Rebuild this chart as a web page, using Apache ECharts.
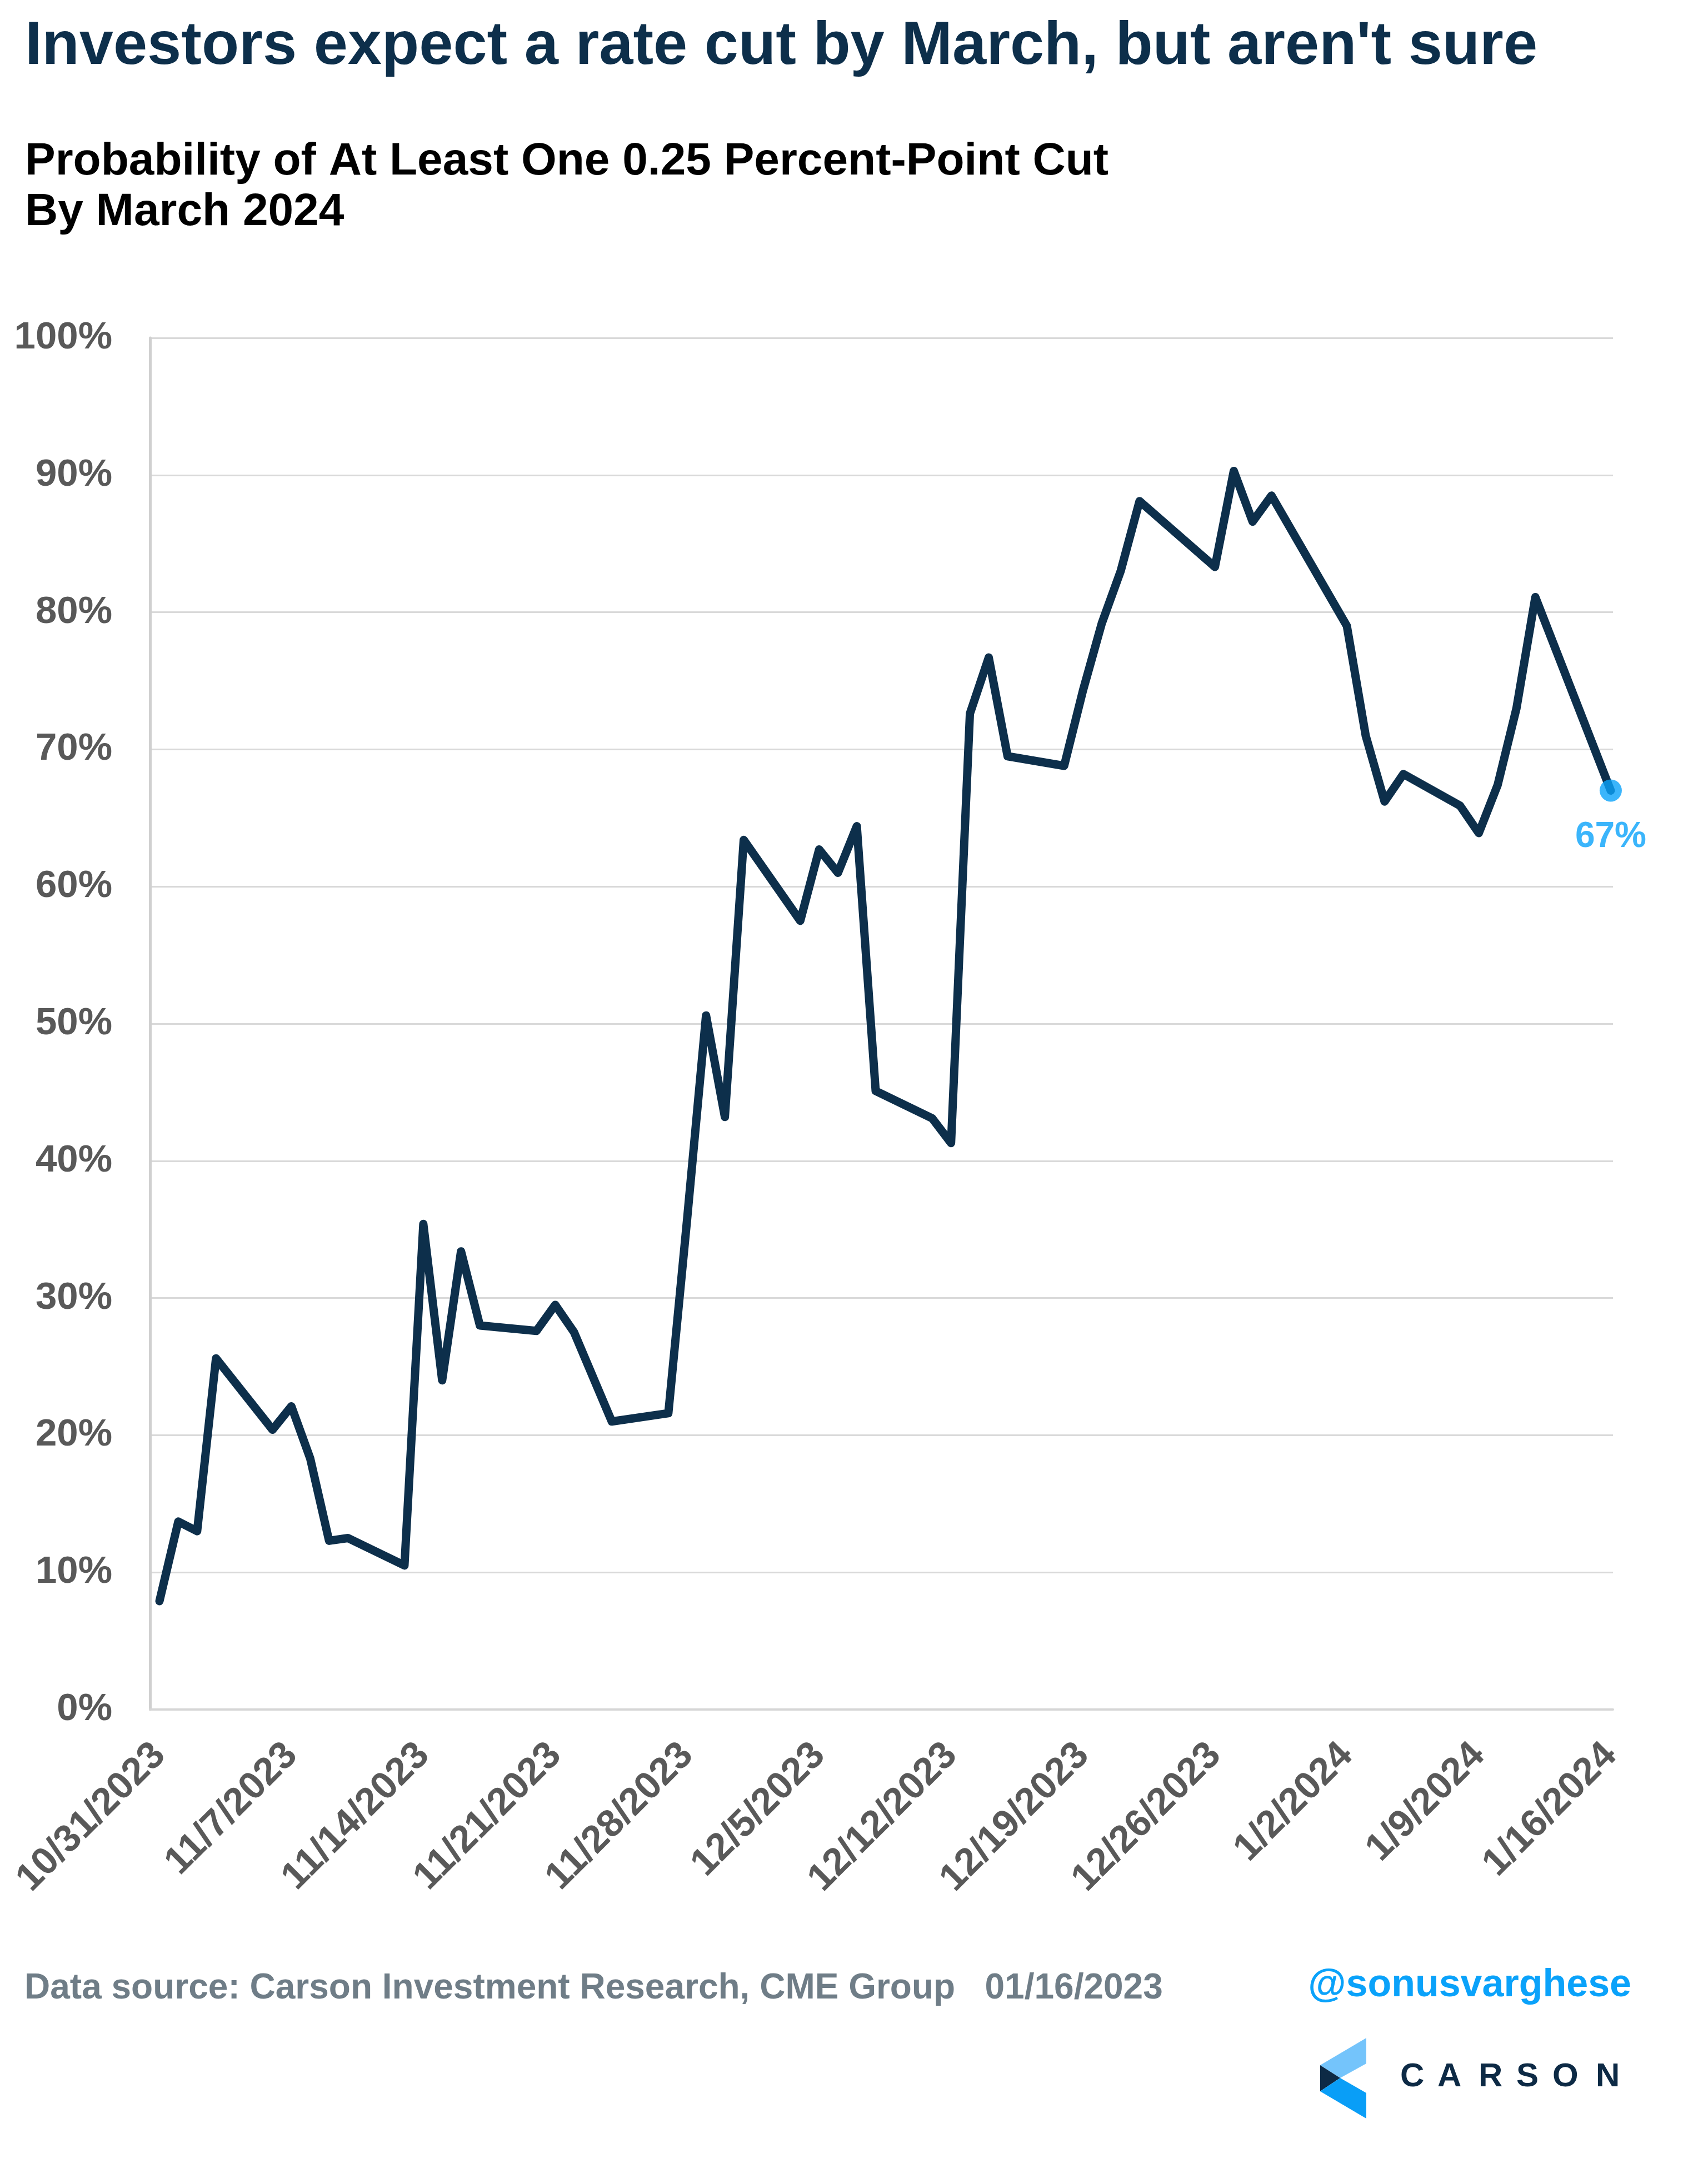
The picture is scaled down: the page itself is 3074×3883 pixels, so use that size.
<!DOCTYPE html>
<html>
<head>
<meta charset="utf-8">
<script src="https://cdn.jsdelivr.net/npm/echarts@6/dist/echarts.min.js"></script>
<style>
  html, body { margin: 0; padding: 0; background: #ffffff; }
  #chart { width: 3074px; height: 3883px; }
</style>
</head>
<body>
<div id="chart"></div>
<script>
// ---- Data ----
const dates = [
  '10/31/2023','11/1/2023','11/2/2023','11/3/2023','11/6/2023','11/7/2023','11/8/2023','11/9/2023','11/10/2023',
  '11/13/2023','11/14/2023','11/15/2023','11/16/2023','11/17/2023','11/20/2023','11/21/2023','11/22/2023','11/24/2023',
  '11/27/2023','11/28/2023','11/29/2023','11/30/2023','12/1/2023','12/4/2023','12/5/2023','12/6/2023','12/7/2023','12/8/2023',
  '12/11/2023','12/12/2023','12/13/2023','12/14/2023','12/15/2023','12/18/2023','12/19/2023','12/20/2023','12/21/2023','12/22/2023',
  '12/26/2023','12/27/2023','12/28/2023','12/29/2023','1/2/2024','1/3/2024','1/4/2024','1/5/2024',
  '1/8/2024','1/9/2024','1/10/2024','1/11/2024','1/12/2024','1/16/2024'
];
const probability = [
  7.9, 13.7, 13.0, 25.6, 20.4, 22.1, 18.3, 12.3, 12.5,
  10.5, 35.4, 24.0, 33.4, 28.0, 27.6, 29.5, 27.5, 21.0,
  21.6, 35.8, 50.6, 43.2, 63.4, 57.5, 62.7, 61.0, 64.4, 45.1,
  43.1, 41.3, 72.6, 76.7, 69.5, 68.8, 74.3, 79.2, 83.0, 88.1,
  83.3, 90.3, 86.6, 88.5, 79.0, 71.0, 66.2, 68.2,
  65.9, 63.9, 67.4, 73.0, 81.1, 67.0
];
const xTickLabels = [
  '10/31/2023','11/7/2023','11/14/2023','11/21/2023','11/28/2023','12/5/2023',
  '12/12/2023','12/19/2023','12/26/2023','1/2/2024','1/9/2024','1/16/2024'
];
const yTicks = [0, 10, 20, 30, 40, 50, 60, 70, 80, 90, 100];

// ---- Helpers: map a date string to a day number (days since first date) ----
function toUTC(s) {
  const p = s.split('/').map(Number);
  return Date.UTC(p[2], p[0] - 1, p[1]);
}
const DAY = 86400000;
const t0 = toUTC(dates[0]);
const dayOf = s => Math.round((toUTC(s) - t0) / DAY);

const lineData = dates.map((d, i) => [dayOf(d), probability[i]]);
const lastPoint = lineData[lineData.length - 1];
const tickDays = xTickLabels.map(dayOf);
const labelByDay = {};
xTickLabels.forEach((s, i) => { labelByDay[tickDays[i]] = s; });

const FONT = '"Liberation Sans", Arial, sans-serif';
const NAVY = '#0d2f4b';
const BLUE = '#0aa2fa';
const GRAY = '#595959';
const LOGO_FONT = 'bold 60px "Liberation Sans", Arial, sans-serif';

const chart = echarts.init(document.getElementById('chart'), null, { renderer: 'canvas' });

chart.setOption({
  backgroundColor: '#ffffff',
  animation: false,
  title: [
    { text: "Investors expect a rate cut by March, but aren't sure", left: 40, top: 25,
      textStyle: { fontFamily: FONT, fontSize: 110, fontWeight: 'bold', color: NAVY } },
    { text: 'Probability of At Least One 0.25 Percent-Point Cut', left: 40, top: 245,
      textStyle: { fontFamily: FONT, fontSize: 82, fontWeight: 'bold', color: '#000000' } },
    { text: 'By March 2024', left: 40, top: 336,
      textStyle: { fontFamily: FONT, fontSize: 82, fontWeight: 'bold', color: '#000000' } },
    { text: 'Data source: Carson Investment Research, CME Group   01/16/2023', left: 39, top: 3541,
      textStyle: { fontFamily: FONT, fontSize: 64, fontWeight: 'bold', color: '#6f7d87' } },
    { text: '@sonusvarghese', right: 133, top: 3533,
      textStyle: { fontFamily: FONT, fontSize: 70, fontWeight: 'bold', color: BLUE } }
  ],
  grid: { left: 270, right: 171, top: 608, bottom: 807, containLabel: false, outerBoundsMode: 'none' },
  xAxis: {
    type: 'value',
    min: -0.5,
    max: 77.12,
    splitLine: { show: false },
    axisTick: { show: false },
    axisLine: { show: true, onZero: false, lineStyle: { color: '#d6d6d6', width: 4 } },
    axisLabel: {
      customValues: tickDays,
      rotate: 45,
      margin: 72,
      fontFamily: FONT,
      fontSize: 69,
      fontWeight: 'bold',
      color: GRAY,
      formatter: v => labelByDay[v] || ''
    }
  },
  yAxis: {
    type: 'value',
    min: yTicks[0],
    max: yTicks[yTicks.length - 1],
    interval: 10,
    axisTick: { show: false },
    axisLine: { show: true, onZero: false, lineStyle: { color: '#d0d0d0', width: 5 } },
    splitLine: { show: true, lineStyle: { color: '#d9d9d9', width: 3 } },
    axisLabel: {
      margin: 68,
      fontFamily: FONT,
      fontSize: 69,
      fontWeight: 'bold',
      color: GRAY,
      formatter: '{value}%'
    }
  },
  series: [
    {
      type: 'line',
      data: lineData,
      symbol: 'none',
      lineStyle: { color: NAVY, width: 15, cap: 'round', join: 'round' },
      z: 3
    },
    {
      type: 'scatter',
      data: [lastPoint],
      symbol: 'circle',
      symbolSize: 40,
      itemStyle: { color: BLUE },
      label: {
        show: true,
        position: 'bottom',
        distance: 32,
        formatter: p => Math.round(p.value[1]) + '%',
        fontFamily: FONT,
        fontSize: 64,
        fontWeight: 'bold',
        color: BLUE
      },
      z: 4
    }
  ],
  graphic: [
    { type: 'polygon', shape: { points: [[2459, 3667], [2459, 3713], [2412, 3739], [2376, 3716]] },
      style: { fill: '#74c4fb' } },
    { type: 'polygon', shape: { points: [[2376, 3716], [2412, 3739], [2376, 3763]] },
      style: { fill: '#0d2a45' } },
    { type: 'polygon', shape: { points: [[2376, 3763], [2412, 3739], [2459, 3766], [2459, 3812]] },
      style: { fill: '#099ef7' } },
    { type: 'text', left: 2520, top: 3707, style: { text: 'C', font: LOGO_FONT, fill: '#0d2a45' } },
    { type: 'text', left: 2587, top: 3707, style: { text: 'A', font: LOGO_FONT, fill: '#0d2a45' } },
    { type: 'text', left: 2661, top: 3707, style: { text: 'R', font: LOGO_FONT, fill: '#0d2a45' } },
    { type: 'text', left: 2729, top: 3707, style: { text: 'S', font: LOGO_FONT, fill: '#0d2a45' } },
    { type: 'text', left: 2794, top: 3707, style: { text: 'O', font: LOGO_FONT, fill: '#0d2a45' } },
    { type: 'text', left: 2872, top: 3707, style: { text: 'N', font: LOGO_FONT, fill: '#0d2a45' } }
  ]
});
</script>
</body>
</html>
